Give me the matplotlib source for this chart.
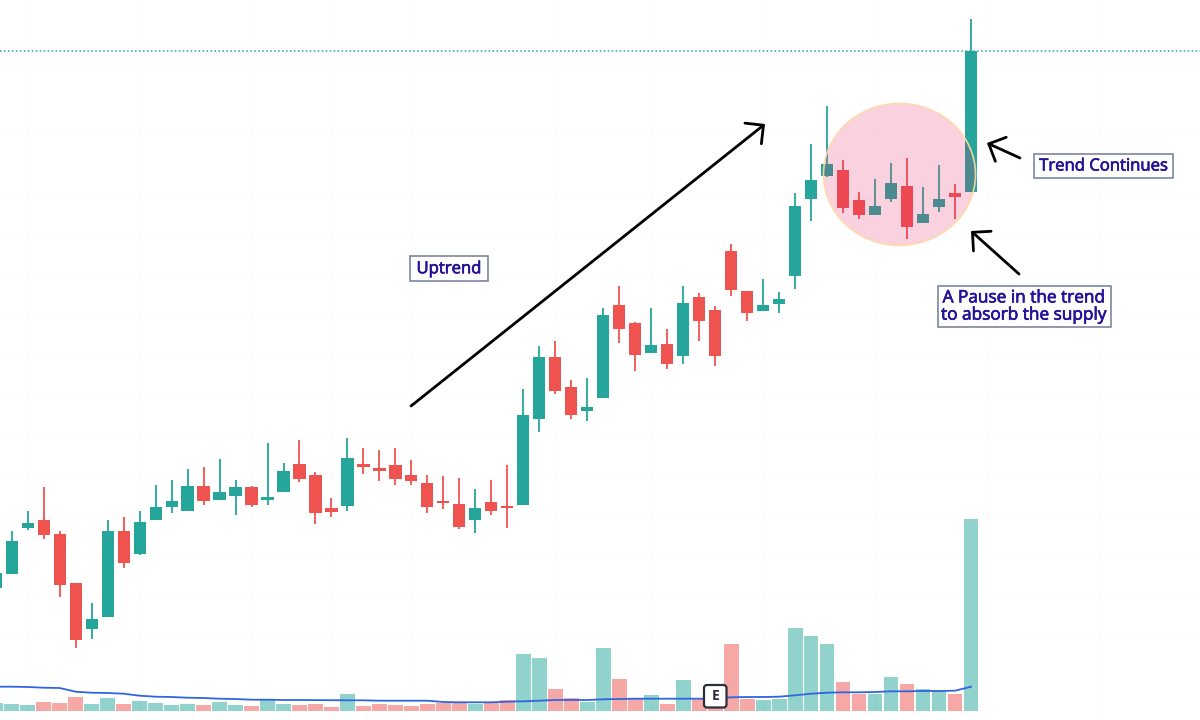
# candle chart with volume pane and hand drawn notes
import numpy as np
import matplotlib
matplotlib.use('Agg')
import matplotlib.pyplot as plt
import matplotlib.patheffects as pe
from matplotlib.patches import Ellipse, FancyBboxPatch, Rectangle

# candle values (axis units)
opens = [132, 146, 192.3, 200, 186, 137, 91, 103, 189, 166.3, 200, 213.3, 209, 234, 220, 224, 233.3, 220, 228.3, 256.3,
         245.3, 212, 214, 256.3, 252.3, 255, 245, 237, 219, 216, 200, 218.3, 214, 215, 301, 363, 333, 309, 322, 415,
         397.3, 367, 376, 364.3, 423, 410.3, 469, 429.3, 409.3, 416, 444.3, 521, 544, 550, 520, 505, 521, 534, 497, 513,
         527, 528]
highs = [150, 189, 209, 233.3, 189, 137, 117, 200, 203.3, 209, 235, 240, 251, 253, 261, 240, 234, 277, 257.3, 280,
         248.3, 222.3, 282.3, 272.3, 270, 272.3, 260, 245, 244, 242, 231.3, 240, 255, 331, 374.3, 379.3, 340.3, 342, 412, 434,
         398, 412, 391, 434, 427, 414, 476.3, 429.3, 441, 428.3, 527, 576, 614, 560, 528, 541.3, 557, 562.3, 533, 555,
         536, 701]
lows = [130, 146, 190, 181, 123, 72, 81, 103, 152.3, 165, 200, 207, 209, 215.3, 220, 205, 213, 215.3, 228.3, 238,
        196, 203.3, 209.3, 246, 239, 235.3, 235.3, 207, 211, 191, 187, 205, 192.3, 215, 288, 326, 301, 299, 322, 377.3,
        349, 367, 351, 356.3, 379, 354, 424, 399.3, 409, 407, 431.3, 499, 543, 507, 501, 505, 518.3, 481, 497, 508,
        501, 528]
closes = [147, 179, 197.3, 185.3, 135, 80.3, 101, 189, 157, 198, 213.3, 219, 234, 219, 228, 233, 215.3, 223, 249, 241.3,
          207, 208, 262.5, 253, 249, 241, 239.3, 213, 217, 193, 212, 209, 212, 305, 363, 329.3, 305, 313, 405, 391.3,
          365.3, 375, 356, 417, 399.3, 364, 430.3, 407, 415, 421, 514.3, 540, 556, 512.3, 505, 514, 537, 493, 506.3, 521.3,
          523.3, 669]

# volume bars and their moving average
volumes = [7.5, 6.8, 5.5, 8.8, 7.5, 13.5, 6.8, 12.5, 6.5, 9.5, 7.5, 5.8, 6.5, 5.5, 8.8, 5.8, 4.5, 11.5, 6.8, 5.8,
           6.8, 3.8, 16.5, 4.5, 6.8, 5.8, 4.5, 6.8, 7.8, 7.5, 6.5, 7.5, 10.5, 56.5, 52.8, 21.5, 12.5, 8.5, 62.5, 31.5,
           12.5, 15.5, 6.8, 30.5, 12.5, 7.5, 66.5, 11.5, 10.8, 11.5, 82.5, 74.5, 66.5, 28.5, 16.8, 16.8, 33.8, 26.5, 21.5, 19.8,
           16.8, 191.5]
vol_ma = [23.8, 23.8, 23.5, 22.8, 22.5, 18.8, 17.8, 17.5, 16.8, 14.8, 13.8, 13.5, 12.8, 12.5, 11.8, 11.5, 10.8, 10.8, 10.5, 10.5,
          10.4, 10.3, 10.2, 10.2, 9.8, 9.8, 9.8, 9.8, 8.5, 8.2, 8.2, 8.2, 8.8, 9.2, 9.8, 10.5, 10.5, 10.5, 11.2, 11.5,
          11.8, 11.8, 11.8, 11.8, 11.8, 11.8, 13.2, 13.5, 13.5, 13.8, 15.2, 16.8, 17.8, 18.2, 18.2, 18.5, 19.2, 19.2, 19.5, 19.5,
          19.8, 23.8]

# last price line and faint grid
last_price = 669.5
grid_x = [2, 9, 16, 21, 26, 35, 41, 48, 55, 62, 69]
grid_y = [82, 122, 162, 202, 242, 282, 322, 362, 402, 442, 482, 522, 587]

GREEN = '#26a69a'
RED = '#ef5350'
NOTE = '#23129a'
BOX = '#6f7d92'

plt.rcParams['font.family'] = ['Open Sans', 'DejaVu Sans']

opens = np.array(opens)
closes = np.array(closes)
x = np.arange(len(opens))
colores = [GREEN if c >= o else RED for o, c in zip(opens, closes)]

fig = plt.figure(figsize=(12, 7.2), dpi=100)
ax = fig.add_axes([0, 0, 1, 1])
ax.set_xlim(0.269, 75.32)
ax.set_ylim(0, 720)

# volume pane shares the picture area, own scale
ax_vol = ax.twinx()
ax_vol.set_ylim(-9.5, 710.5)

ax.set_xticks(grid_x)
ax.set_yticks(grid_y)
ax.grid(True, color='#fbfcfc', lw=1)
ax.set_axisbelow(True)
ax.tick_params(length=0, labelbottom=False, labelleft=False)
ax_vol.set_yticks([])
for a in (ax, ax_vol):
    for s in a.spines.values():
        s.set_visible(False)

# candles
ax.vlines(x, lows, highs, colors=colores, lw=1.3, zorder=3)
ax.bar(x, np.abs(closes - opens), bottom=np.minimum(opens, closes), width=0.76, color=colores, zorder=4)
ax.axhline(last_price, color=GREEN, lw=1.1, ls=(0, (1, 1.6)), zorder=2)

# volume
ax_vol.bar(x, volumes, width=0.92, color=colores, alpha=0.5, zorder=2)
ax_vol.plot(x, vol_ma, color='#2f66e0', lw=1.3, zorder=3)

# notes go on top, in picture pixels
ov = fig.add_axes([0, 0, 1, 1])
ov.set_xlim(0, 1200)
ov.set_ylim(720, 0)
ov.axis('off')

ov.add_patch(Ellipse((899.5, 174.4), 152, 142, facecolor=(233/255, 30/255, 99/255, 0.2),
                     edgecolor=(1, 0.85, 0.65, 0.9), lw=1.2))

flecha = dict(arrowstyle='->,head_length=0.95,head_width=0.95', color='black', lw=2, shrinkA=0, shrinkB=0)
ov.annotate('', xy=(765, 124), xytext=(411, 406), arrowprops=flecha)
ov.annotate('', xy=(987, 143), xytext=(1020, 158), arrowprops=flecha)
ov.annotate('', xy=(971, 231), xytext=(1019, 274), arrowprops=flecha)

# note boxes: left, top, width, height, text
def nota(left, top, ancho, alto, texto, size=12):
    ov.add_patch(Rectangle((left, top), ancho, alto, facecolor='white', edgecolor=BOX, lw=1.1))
    t = ov.text(left + ancho / 2, top + alto / 2 + 1, texto, color=NOTE, fontsize=size, ha='center', va='center',
                linespacing=1.1)
    t.set_path_effects([pe.withStroke(linewidth=0.5, foreground=NOTE)])

nota(410, 256, 77.5, 24.5, 'Uptrend')
nota(1034, 153.5, 138.5, 24, 'Trend Continues')
nota(938, 285.5, 172.5, 41, 'A Pause in the trend\nto absorb the supply', size=12.4)

# earnings marker
ov.add_patch(FancyBboxPatch((706.5, 687.5), 17.5, 17.5, boxstyle='round,pad=2.5,rounding_size=3', facecolor='white',
                            edgecolor='#2a2e39', lw=1.6))
ov.text(715.3, 696.5, 'E', color='#2a2e39', fontsize=10, fontweight='bold', ha='center', va='center')

fig.savefig('out.png', dpi=100)
